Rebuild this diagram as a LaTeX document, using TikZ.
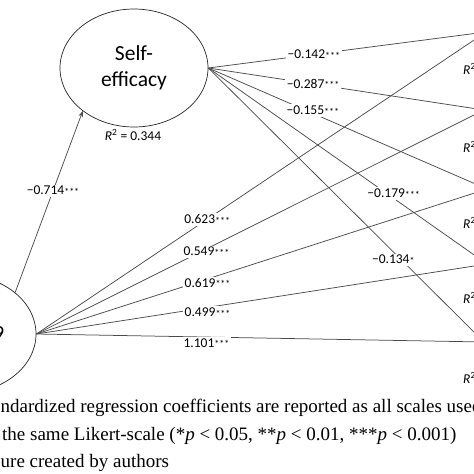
\documentclass[tikz,border=0pt]{standalone}
\usepackage{fontspec}
\setmainfont{Liberation Serif}
\newfontfamily\diagfont{Carlito}
\usetikzlibrary{arrows.meta,shapes.geometric}
\newcommand\sigstars[1]{{\fontsize{10}{10}\selectfont\raisebox{-0.6pt}{#1}}}

\begin{document}
\begin{tikzpicture}[x=1pt,y=-1pt,
  latent/.style={draw=black!85,line width=0.7pt,ellipse,minimum width=148pt,
                 minimum height=118pt,inner sep=0pt,align=center,
                 font=\diagfont\fontsize{21.5}{26}\selectfont},
  coef/.style={fill=white,inner sep=1.5pt,font=\diagfont\fontsize{13.5}{15}\selectfont},
  rsq/.style={inner sep=0pt,font=\diagfont\fontsize{13.5}{15}\selectfont},
  effect/.style={draw=black!70,line width=0.75pt,-{Stealth[length=6pt,width=4.5pt]}},
  note/.style={anchor=base west,inner sep=0pt,font=\fontsize{19}{22}\selectfont}
]
\clip (0,0) rectangle (474,474);

\node[latent] (se)  at (134,68)  {Self-\\efficacy};
\node[latent] (cov) at (-38,334) {COVID-19};
\node[rsq]    (rse) at (133,135) {\textit{R}\textsuperscript{2} = 0.344};

% outcomes (outside the frame)
\coordinate (y1) at (486,32);
\coordinate (y2) at (484,110);
\coordinate (y3) at (487,189);
\coordinate (y4) at (487,264);
\coordinate (y5) at (484,342);
\node[rsq,anchor=west] (r1) at (463,69)  {\textit{R}\textsuperscript{2}};
\node[rsq,anchor=west] (r2) at (463,147) {\textit{R}\textsuperscript{2}};
\node[rsq,anchor=west] (r3) at (463,223) {\textit{R}\textsuperscript{2}};
\node[rsq,anchor=west] (r4) at (463,298) {\textit{R}\textsuperscript{2}};
\node[rsq,anchor=west] (r5) at (463,378) {\textit{R}\textsuperscript{2}};

\draw[effect] (cov.38) -- node[coef,pos=0.56] {−0.714\sigstars{***}} (se.220);

\draw[effect] (se.east) -- node[coef,pos=0.38] {−0.142\sigstars{***}} (y1);
\draw[effect] (se.east) -- node[coef,pos=0.38] {−0.287\sigstars{***}} (y2);
\draw[effect] (se.east) -- node[coef,pos=0.35,xshift=7pt] {−0.155\sigstars{***}} (y3);
\draw[effect] (se.east) -- node[coef,pos=0.64,xshift=7pt] {−0.179\sigstars{***}} (y4);
\draw[effect] (se.east) -- node[coef,pos=0.70,xshift=-8pt] {−0.134\sigstars{*}} (y5);

\draw[effect] (cov.east) -- node[coef,pos=0.38] {0.623\sigstars{***}} (y1);
\draw[effect] (cov.east) -- node[coef,pos=0.38,yshift=-3pt] {0.549\sigstars{***}} (y2);
\draw[effect] (cov.east) -- node[coef,pos=0.38,yshift=-4pt] {0.619\sigstars{***}} (y3);
\draw[effect] (cov.east) -- node[coef,pos=0.38,yshift=-5pt] {0.499\sigstars{***}} (y4);
\draw[effect] (cov.east) -- node[coef,pos=0.38,yshift=-6pt] {1.101\sigstars{***}} (y5);

\node[note] (n1) at (0.5,412) {ndardized regression coefficients are reported as all scales used};
\node[note] (n2) at (2,440) {the same Likert-scale (*\textit{p} < 0.05, **\textit{p} < 0.01, ***\textit{p} < 0.001)};
\node[note] (n3) at (0.5,467) {ure created by authors};
\end{tikzpicture}
\end{document}
